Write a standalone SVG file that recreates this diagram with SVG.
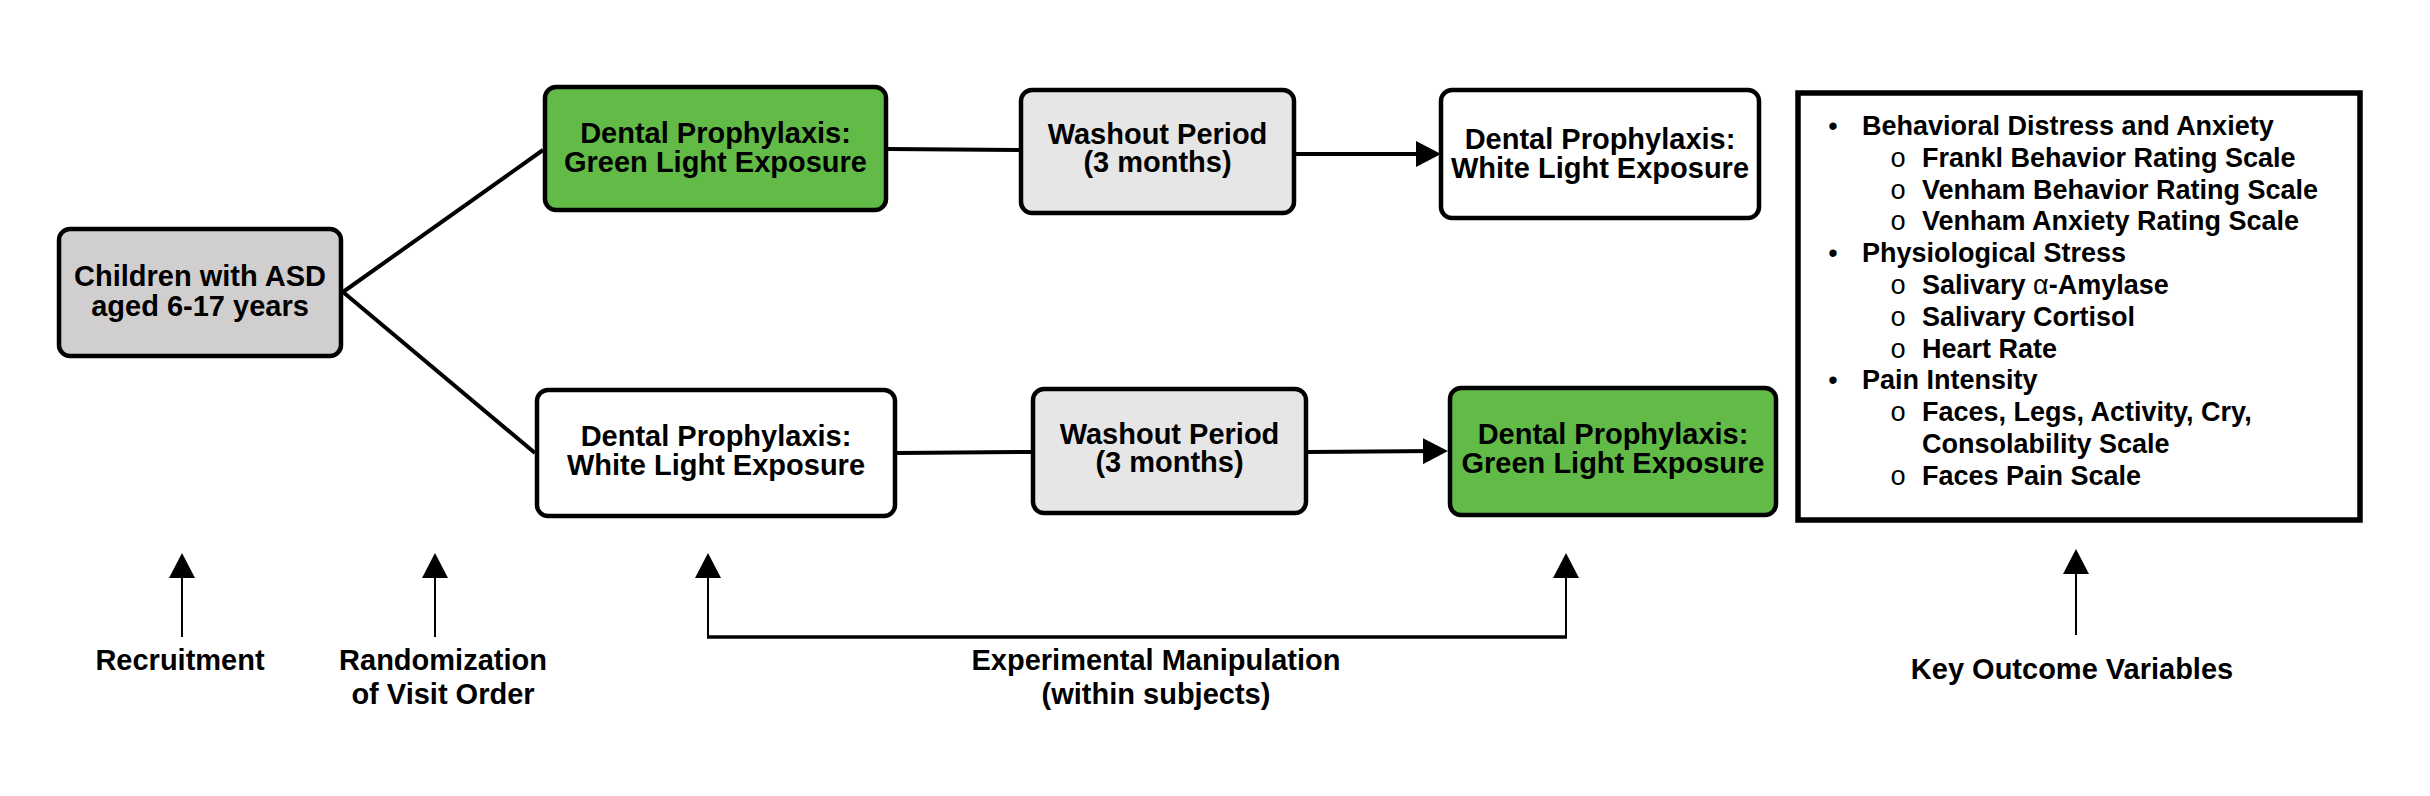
<svg xmlns="http://www.w3.org/2000/svg" width="2430" height="796" viewBox="0 0 2430 796">
<defs>
<marker id="arrow" markerUnits="userSpaceOnUse" markerWidth="25" markerHeight="26" viewBox="0 0 25 26" refX="14" refY="13" orient="auto"><path d="M0,0 L25,13 L0,26 Z" fill="#000"/></marker>
<style>
text{font-family:"Liberation Sans",Arial,sans-serif;font-weight:bold;fill:#000}
.c{text-anchor:middle;font-size:29px}
.box{stroke:#000;stroke-width:4.5}
.green{fill:#62BB47}
.gray{fill:#D0CECE}
.light{fill:#E7E6E6}
.white{fill:#fff}
.outcome{fill:#fff;stroke:#000;stroke-width:5.5}
.conn{stroke:#000;stroke-width:4;fill:none}
.thin{stroke:#000;stroke-width:2;fill:none}
.bar{stroke:#000;stroke-width:3.5;fill:none}
.list{font-size:27px}
.b1{text-anchor:middle;font-size:27px;font-weight:normal}
.b2{text-anchor:middle;font-size:27px;font-weight:normal;font-family:"Liberation Mono","Courier New",monospace}
.sym{font-weight:normal}
</style>
</defs>
<rect width="2430" height="796" fill="#fff"/>

<g id="connectors">
<line class="conn" x1="343" y1="292" x2="543" y2="150"/>
<line class="conn" x1="343" y1="292" x2="535" y2="453"/>
<line class="conn" x1="888" y1="149" x2="1019" y2="150"/>
<line class="conn" x1="1296" y1="154" x2="1430" y2="154" marker-end="url(#arrow)"/>
<line class="conn" x1="897" y1="453" x2="1031" y2="452"/>
<line class="conn" x1="1308" y1="452" x2="1437" y2="451" marker-end="url(#arrow)"/>
<line class="thin" x1="182" y1="637" x2="182" y2="564" marker-end="url(#arrow)"/>
<line class="thin" x1="435" y1="637" x2="435" y2="564" marker-end="url(#arrow)"/>
<line class="thin" x1="708" y1="637" x2="708" y2="564" marker-end="url(#arrow)"/>
<line class="thin" x1="1566" y1="637" x2="1566" y2="564" marker-end="url(#arrow)"/>
<line class="bar" x1="707" y1="637" x2="1567" y2="637"/>
<line class="thin" x1="2076" y1="635" x2="2076" y2="560" marker-end="url(#arrow)"/>
</g>

<g id="children">
<rect class="box gray" x="59" y="229" width="282" height="127" rx="11"/>
<text class="c" x="200" y="286">Children with ASD</text>
<text class="c" x="200" y="316">aged 6-17 years</text>
</g>

<g id="green-top">
<rect class="box green" x="545" y="87" width="341" height="123" rx="11"/>
<text class="c" x="715.5" y="142.7">Dental Prophylaxis:</text>
<text class="c" x="715.5" y="171.7">Green Light Exposure</text>
</g>

<g id="washout-top">
<rect class="box light" x="1021" y="90" width="273" height="123" rx="11"/>
<text class="c" x="1157.5" y="144">Washout Period</text>
<text class="c" x="1157.5" y="172">(3 months)</text>
</g>

<g id="white-top">
<rect class="box white" x="1441" y="90" width="318" height="128" rx="11"/>
<text class="c" x="1600" y="149">Dental Prophylaxis:</text>
<text class="c" x="1600" y="178">White Light Exposure</text>
</g>

<g id="white-bottom">
<rect class="box white" x="537" y="390" width="358" height="126" rx="11"/>
<text class="c" x="716" y="446">Dental Prophylaxis:</text>
<text class="c" x="716" y="475">White Light Exposure</text>
</g>

<g id="washout-bottom">
<rect class="box light" x="1033" y="389" width="273" height="124" rx="11"/>
<text class="c" x="1169.5" y="444">Washout Period</text>
<text class="c" x="1169.5" y="472">(3 months)</text>
</g>

<g id="green-bottom">
<rect class="box green" x="1450" y="388" width="326" height="127" rx="11"/>
<text class="c" x="1613" y="444">Dental Prophylaxis:</text>
<text class="c" x="1613" y="473">Green Light Exposure</text>
</g>

<g id="outcomes">
<rect class="outcome" x="1798" y="93" width="562" height="427"/>
<text class="b1" x="1833" y="135">•</text>
<text class="list" x="1862" y="135">Behavioral Distress and Anxiety</text>
<text class="b2" x="1898" y="166.8">o</text>
<text class="list" x="1922" y="166.8">Frankl Behavior Rating Scale</text>
<text class="b2" x="1898" y="198.6">o</text>
<text class="list" x="1922" y="198.6">Venham Behavior Rating Scale</text>
<text class="b2" x="1898" y="230.4">o</text>
<text class="list" x="1922" y="230.4">Venham Anxiety Rating Scale</text>
<text class="b1" x="1833" y="262.2">•</text>
<text class="list" x="1862" y="262.2">Physiological Stress</text>
<text class="b2" x="1898" y="294">o</text>
<text class="list" x="1922" y="294">Salivary <tspan class="sym">α</tspan>-Amylase</text>
<text class="b2" x="1898" y="325.8">o</text>
<text class="list" x="1922" y="325.8">Salivary Cortisol</text>
<text class="b2" x="1898" y="357.6">o</text>
<text class="list" x="1922" y="357.6">Heart Rate</text>
<text class="b1" x="1833" y="389.4">•</text>
<text class="list" x="1862" y="389.4">Pain Intensity</text>
<text class="b2" x="1898" y="421.2">o</text>
<text class="list" x="1922" y="421.2">Faces, Legs, Activity, Cry,</text>
<text class="list" x="1922" y="453">Consolability Scale</text>
<text class="b2" x="1898" y="484.8">o</text>
<text class="list" x="1922" y="484.8">Faces Pain Scale</text>
</g>

<g id="label-recruitment">
<text class="c" x="180" y="670">Recruitment</text>
</g>
<g id="label-randomization">
<text class="c" x="443" y="670">Randomization</text>
<text class="c" x="443" y="704">of Visit Order</text>
</g>
<g id="label-experimental">
<text class="c" x="1156" y="670">Experimental Manipulation</text>
<text class="c" x="1156" y="704">(within subjects)</text>
</g>
<g id="label-outcomes">
<text class="c" x="2072" y="679">Key Outcome Variables</text>
</g>
</svg>
